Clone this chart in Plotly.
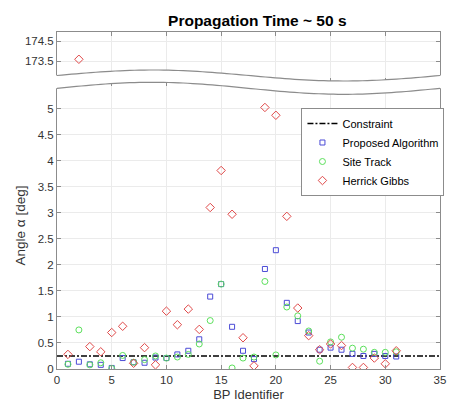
import numpy as np
import plotly.graph_objects as go

# BP identifiers and angle values [deg]
bp_id = list(range(1, 32))
proposed = [0.10, 0.14, 0.09, 0.08, 0.02, 0.21, 0.13, 0.12, 0.22, 0.21,
            0.28, 0.35, 0.57, 1.39, 1.63, 0.81, 0.35, 0.19, 1.92, 2.28,
            1.27, 0.92, 0.70, 0.37, 0.41, 0.37, 0.29, 0.25, 0.29, 0.25, 0.24]
site_track = [0.09, 0.75, 0.08, 0.12, 0.01, 0.26, 0.13, 0.18, 0.25, 0.21,
              0.23, 0.28, 0.48, 0.93, 1.63, 0.02, 0.21, 0.23, 1.68, 0.27,
              1.19, 1.02, 0.73, 0.15, 0.52, 0.61, 0.40, 0.38, 0.32, 0.32, 0.33]
herrick_gibbs = [0.28, 173.6, 0.43, 0.33, 0.70, 0.82, 0.11, 0.41, 0.08, 1.11,
                 0.85, 1.15, 0.76, 3.10, 3.81, 2.97, 0.60, 0.06, 5.02, 4.87,
                 2.93, 1.17, 0.64, 0.37, 0.48, 0.45, 0.03, 0.03, 0.21, 0.10, 0.35]
constraint_x = [0, 35]
constraint_y = [0.25, 0.25]

BREAK = 100  # values above this go to the upper panel
hg_low = [v if v < BREAK else None for v in herrick_gibbs]
hg_high = [v if v >= BREAK else None for v in herrick_gibbs]

BLUE = "#4b4bd6"
GREEN = "#5ce05c"
RED = "#e04848"
FONT = "Liberation Sans, Arial, sans-serif"

# page offset of the figure (default body margin)
OFF = 8
FIG_W, FIG_H = 474 - OFF, 415 - OFF
# plot area in page pixels (for the break decoration)
L, R, T, B = 53, 440, 32, 369
W, H = R - L, B - T


def px(x, y):
    return (x - L) / W, (B - y) / H


fig = go.Figure()

fig.add_trace(go.Scatter(x=constraint_x, y=constraint_y, mode="lines", name="Constraint",
                         line=dict(color="black", width=1.3, dash="6px,2px,2px,2px")))
fig.add_trace(go.Scatter(x=bp_id, y=proposed, mode="markers", name="Proposed Algorithm",
                         marker=dict(symbol="square-open", size=5, color=BLUE, line=dict(width=1))))
fig.add_trace(go.Scatter(x=bp_id, y=site_track, mode="markers", name="Site Track",
                         marker=dict(symbol="circle-open", size=6, color=GREEN, line=dict(width=1))))
fig.add_trace(go.Scatter(x=bp_id, y=hg_low, mode="markers", name="Herrick Gibbs",
                         marker=dict(symbol="diamond-open", size=6.5, color=RED, line=dict(width=1))))
fig.add_trace(go.Scatter(x=bp_id, y=hg_high, mode="markers", name="Herrick Gibbs",
                         showlegend=False, xaxis="x2", yaxis="y2",
                         marker=dict(symbol="diamond-open", size=6.5, color=RED, line=dict(width=1))))

split = (B - 82) / H
axis_common = dict(showline=True, linecolor="#8c8c8c", linewidth=1, mirror="ticks",
                   ticks="inside", ticklen=4, tickcolor="#8c8c8c",
                   showgrid=True, gridcolor="#ebebeb", zeroline=False,
                   tickfont=dict(family=FONT, size=11.5, color="#333333"))

# break decoration: white gap between two wavy edges
t = np.linspace(0, 1, 80)
upper = 75.5 - 5.5 * np.sin(2 * np.pi * t)
lower = 88.3 - 6.0 * np.sin(2 * np.pi * t)
xs = L + t * W
pts_up = [px(a, b) for a, b in zip(xs, upper)]
pts_lo = [px(a, b) for a, b in zip(xs, lower)]
poly = [(pts_up[0][0] - 0.01, pts_up[0][1])] + pts_up + [(pts_up[-1][0] + 0.01, pts_up[-1][1])]
poly += [(pts_lo[-1][0] + 0.01, pts_lo[-1][1])] + pts_lo[::-1] + [(pts_lo[0][0] - 0.01, pts_lo[0][1])]
fill_path = "M " + " L ".join(f"{a:.4f},{b:.4f}" for a, b in poly) + " Z"
up_path = "M " + " L ".join(f"{a:.4f},{b:.4f}" for a, b in pts_up)
lo_path = "M " + " L ".join(f"{a:.4f},{b:.4f}" for a, b in pts_lo)

shapes = [
    dict(type="path", path=fill_path, xref="paper", yref="paper", layer="above",
         fillcolor="white", line=dict(width=0)),
    dict(type="path", path=up_path, xref="paper", yref="paper", layer="above",
         line=dict(color="#8c8c8c", width=1.2)),
    dict(type="path", path=lo_path, xref="paper", yref="paper", layer="above",
         line=dict(color="#8c8c8c", width=1.2)),
]

fig.update_layout(
    width=FIG_W, height=FIG_H,
    margin=dict(l=L - OFF, r=FIG_W - (R - OFF), t=T - OFF, b=FIG_H - (B - OFF)),
    paper_bgcolor="white", plot_bgcolor="white",
    font=dict(family=FONT, color="#262626"),
    title=dict(text="<b>Propagation Time ~ 50 s</b>", x=0.535, xanchor="center",
               y=1 - (21 - OFF) / FIG_H, yanchor="middle",
               font=dict(family=FONT, size=15.5, color="black")),
    xaxis=dict(axis_common, range=[0, 35], tickvals=list(range(0, 36, 5)), anchor="y",
               title=dict(text="BP Identifier", font=dict(family=FONT, size=13, color="#333333"),
                          standoff=5)),
    yaxis=dict(axis_common, range=[0, (B - 82) / 52.1], domain=[0, split],
               tickvals=[i * 0.5 for i in range(11)], anchor="x",
               title=dict(text="Angle α [deg]", font=dict(family=FONT, size=13.5, color="#333333"),
                          standoff=8)),
    xaxis2=dict(axis_common, range=[0, 35], tickvals=list(range(0, 36, 5)), anchor="y2",
                showticklabels=False, matches="x"),
    yaxis2=dict(axis_common, range=[173.5 - (82 - 61.3) / 20.3, 173.5 + (61.3 - 32) / 20.3],
                domain=[split, 1], tickvals=[173.5, 174.5], anchor="x2"),
    legend=dict(x=px(300, 0)[0], y=px(0, 108)[1], xanchor="left", yanchor="top",
                bgcolor="white", bordercolor="#8c8c8c", borderwidth=1,
                font=dict(family=FONT, size=11, color="black"), tracegroupgap=0,
                itemwidth=30),
    shapes=shapes,
    showlegend=True,
)

fig.write_html("out.html")
